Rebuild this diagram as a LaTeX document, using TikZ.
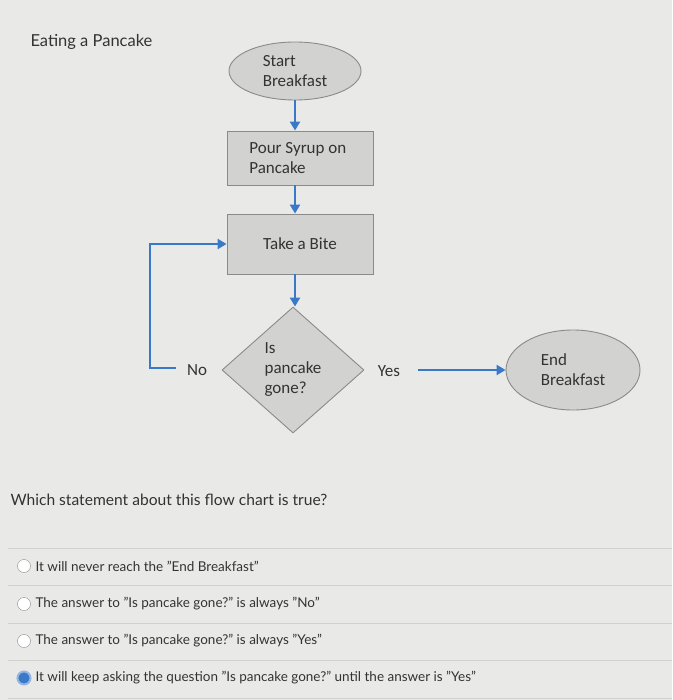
\documentclass[tikz,border=0pt]{standalone}
\usepackage{fontspec}
\setmainfont{Lato}
\newfontfamily\chartfont{Carlito}
\usetikzlibrary{shapes.geometric,arrows.meta}
\newcommand\qm{\symbol{34}}
\definecolor{bg}{HTML}{E9E9E7}
\definecolor{shp}{HTML}{D2D2D0}
\definecolor{edge}{HTML}{8A8A8A}
\definecolor{flow}{HTML}{3A78C8}
\definecolor{txt}{HTML}{333333}
\definecolor{sep}{HTML}{D0D0CE}
\tikzset{
 x=1pt,y=-1pt,
 shapebase/.style={draw=edge,fill=shp,line width=0.9pt,font=\chartfont\fontsize{17}{20}\selectfont,text=txt,align=left},
 boxnode/.style={shapebase,rectangle,minimum width=146,minimum height=54},
 ovalnode/.style={shapebase,ellipse,minimum width=132,minimum height=58,inner sep=0},
 decnode/.style={shapebase,diamond,minimum width=142,minimum height=126,inner sep=0},
 lbl/.style={font=\chartfont\fontsize{17}{20}\selectfont,text=txt},
 flowarrow/.style={draw=flow,line width=2.6pt,-{Triangle[length=9pt,width=10pt]}},
 opt/.style={anchor=west,font=\fontsize{13.5}{16}\selectfont,text=txt},
 radio/.style={circle,draw=edge,fill=white,minimum size=13pt,inner sep=0},
}
\begin{document}
\begin{tikzpicture}
\fill[bg] (0,0) rectangle (672,700);
\useasboundingbox (0,0) rectangle (672,700);
\node[anchor=west,font=\fontsize{16.5}{19}\selectfont,text=txt] (title) at (27,42) {Eating a Pancake};
\node[ovalnode] (start) at (295,71) {Start\\Breakfast};
\node[boxnode] (pour) at (300,158) {Pour Syrup on\\Pancake\hspace*{45pt}};
\node[boxnode,minimum height=60] (bite) at (300,244) {Take a Bite};
\node[decnode] (dec) at (293,370) {Is\\pancake\\gone?};
\node[lbl] (no) at (197,370) {No};
\node[lbl] (yes) at (389,371) {Yes};
\node[ovalnode,minimum width=134,minimum height=80] (end) at (573,370) {End\\Breakfast};
\draw[flowarrow] (start.south -| pour.north) ++(-5,0) coordinate (a1) -- (a1 |- pour.north);
\draw[flowarrow] (pour.south) ++(-5,0) coordinate (a2) -- (a2 |- bite.north);
\draw[flowarrow] (bite.south) ++(-5,0) coordinate (a3) -- (a3 |- dec.north);
\coordinate (l1) at (150,368);
\draw[flowarrow] (no.west) ++(-8,-2) -- (l1) -- (l1 |- bite.west) -- (bite.west);
\draw[flowarrow] (418,370) -- (end.west);
\node[anchor=west,font=\fontsize{15.6}{18}\selectfont,text=txt] (q) at (7,500) {Which statement about this flow chart is true?};
\foreach \yy in {548,585,623,660,698} \draw[sep,line width=0.8pt] (8,\yy) -- (672,\yy);
\node[radio] (r1) at (24,566) {};
\node[opt] (o1) at (32,566) {It will never reach the \qm End Breakfast\qm};
\node[radio] (r2) at (24,604) {};
\node[opt] (o2) at (32,604) {The answer to \qm Is pancake gone?\qm{} is always \qm No\qm};
\node[radio] (r3) at (24,641) {};
\node[opt] (o3) at (32,641) {The answer to \qm Is pancake gone?\qm{} is always \qm Yes\qm};
\node[radio,fill=flow,draw=flow!55,line width=2pt] (r4) at (24,678) {};
\node[opt] (o4) at (32,678) {It will keep asking the question \qm Is pancake gone?\qm{} until the answer is \qm Yes\qm};
\end{tikzpicture}
\end{document}
